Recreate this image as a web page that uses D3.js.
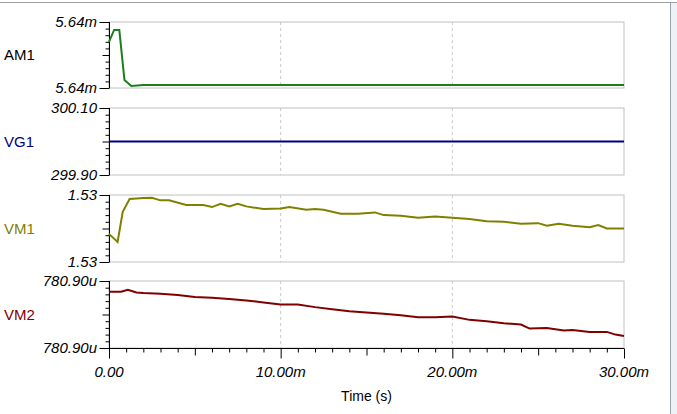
<!DOCTYPE html>
<html><head><meta charset="utf-8">
<script src="https://cdn.jsdelivr.net/npm/d3@7"></script>
<style>body{margin:0;background:#fff}svg{display:block;font-family:"Liberation Sans",Arial,sans-serif}</style>
</head><body><svg id="c" width="677" height="414"></svg>
<script>
// Values are normalized positions within each panel's axis range (0 = bottom label, 1 = top label)
const am1T = [0,0.3,0.6,0.9,1.3,2,30];
const am1V = [0.7,0.88,0.88,0.12,0.03,0.045,0.045];
const vg1T = [0,30];
const vg1V = [0.5,0.5];
const vm1T = [0,0.5,0.8,1.2,2,2.5,3,3.5,4.5,5.5,6,6.5,7,7.5,8,9,10,10.5,11.5,12,12.5,13.5,14.5,15.5,16,17,18,19,20,21,22,23,24,25,25.5,26.2,27,28,28.5,29,30];
const vm1V = [0.42,0.30,0.75,0.94,0.955,0.96,0.92,0.92,0.85,0.85,0.82,0.87,0.83,0.87,0.83,0.79,0.80,0.82,0.78,0.79,0.78,0.72,0.72,0.74,0.70,0.69,0.66,0.68,0.66,0.64,0.61,0.60,0.57,0.58,0.54,0.57,0.54,0.52,0.55,0.50,0.50];
const vm2T = [0,0.7,1.1,1.6,2,3,4,5,6,7,8,9,10,11,12,13,14,15,16,17,18,19,20,21,22,23,24,24.5,25.5,26.5,27,28,29,29.5,30];
const vm2V = [0.84,0.84,0.87,0.83,0.82,0.81,0.79,0.76,0.75,0.73,0.71,0.68,0.65,0.65,0.61,0.58,0.55,0.53,0.51,0.49,0.46,0.46,0.47,0.42,0.40,0.37,0.35,0.29,0.30,0.26,0.27,0.24,0.24,0.20,0.18];
const names = ["AM1","VG1","VM1","VM2"];
const nameColors = ["#000000","#000080","#808000","#800000"];
const lineColors = ["#1a7f1a","#000080","#808000","#800000"];
const topLabels = ["5.64m","300.10","1.53","780.90u"];
const botLabels = ["5.64m","299.90","1.53","780.90u"];
const xTicks = [0,10,20,30];
const xTickLabels = ["0.00","10.00m","20.00m","30.00m"];
const series = [[am1T,am1V],[vg1T,vg1V],[vm1T,vm1V],[vm2T,vm2V]];
const panels = [[22,88],[108,175],[195,262],[281,348]];

const svg = d3.select("#c");
svg.append("line").attr("x1",0).attr("x2",677).attr("y1",2.5).attr("y2",2.5).attr("stroke","#a0a0a0");
svg.append("rect").attr("x",670).attr("y",3).attr("width",7).attr("height",411).attr("fill","#eef2f7");
svg.append("line").attr("x1",670.5).attr("x2",670.5).attr("y1",3).attr("y2",414).attr("stroke","#9aa3ad");
const x = d3.scaleLinear().domain([0,30]).range([109,624]);
panels.forEach(([t,b],i)=>{
  const y = d3.scaleLinear().domain([0,1]).range([b,t]);
  const g = svg.append("g");
  g.append("rect").attr("x",109).attr("y",t).attr("width",515).attr("height",b-t).attr("fill","none").attr("stroke","#c0c0c0");
  [10,20].forEach(v=>g.append("line").attr("x1",x(v)).attr("x2",x(v)).attr("y1",t).attr("y2",b).attr("stroke","#c8c8c8").attr("stroke-dasharray","3,3"));
  const ax = d3.axisLeft(y).tickValues(d3.range(0,1.0001,0.1)).tickSize(4).tickFormat("");
  const ag = g.append("g").attr("transform","translate(109.5,0)").call(ax);
  ag.selectAll("line").attr("stroke","#000").attr("x2",(d)=>(Math.abs(d-0)<1e-6||Math.abs(d-1)<1e-6)?-10:(Math.abs(d-0.5)<1e-6?-7:-4));
  ag.select(".domain").attr("stroke","#000").attr("d",`M0,${t}V${b}`);
  g.append("text").attr("x",97).attr("y",t+5).attr("text-anchor","end").attr("font-style","italic").attr("font-size",15).text(topLabels[i]);
  g.append("text").attr("x",97).attr("y",b+5).attr("text-anchor","end").attr("font-style","italic").attr("font-size",15).text(botLabels[i]);
  g.append("text").attr("x",4).attr("y",(t+b)/2+5).attr("font-size",15).attr("fill",nameColors[i]).text(names[i]);
  const [ts,vs]=series[i];
  g.append("path").datum(ts.map((d,k)=>[d,vs[k]])).attr("fill","none").attr("stroke",lineColors[i]).attr("stroke-width",2)
    .attr("d",d3.line().x(d=>x(d[0])).y(d=>y(d[1])));
});
const xa = d3.axisBottom(x).tickValues(d3.range(0,30.01,1)).tickSize(4).tickFormat("");
const xg = svg.append("g").attr("transform","translate(0,348.5)").call(xa);
xg.selectAll("line").attr("stroke","#000").attr("y2",d=>d%10===0?10:(d%5===0?7:4));
xg.select(".domain").attr("stroke","#000").attr("d","M109,0H624");
xTicks.forEach((v,k)=>svg.append("text").attr("x",x(v)).attr("y",377).attr("text-anchor","middle").attr("font-style","italic").attr("font-size",15).text(xTickLabels[k]));
svg.append("text").attr("x",x(15)).attr("y",401).attr("text-anchor","middle").attr("font-size",14).text("Time (s)");
</script></body></html>
